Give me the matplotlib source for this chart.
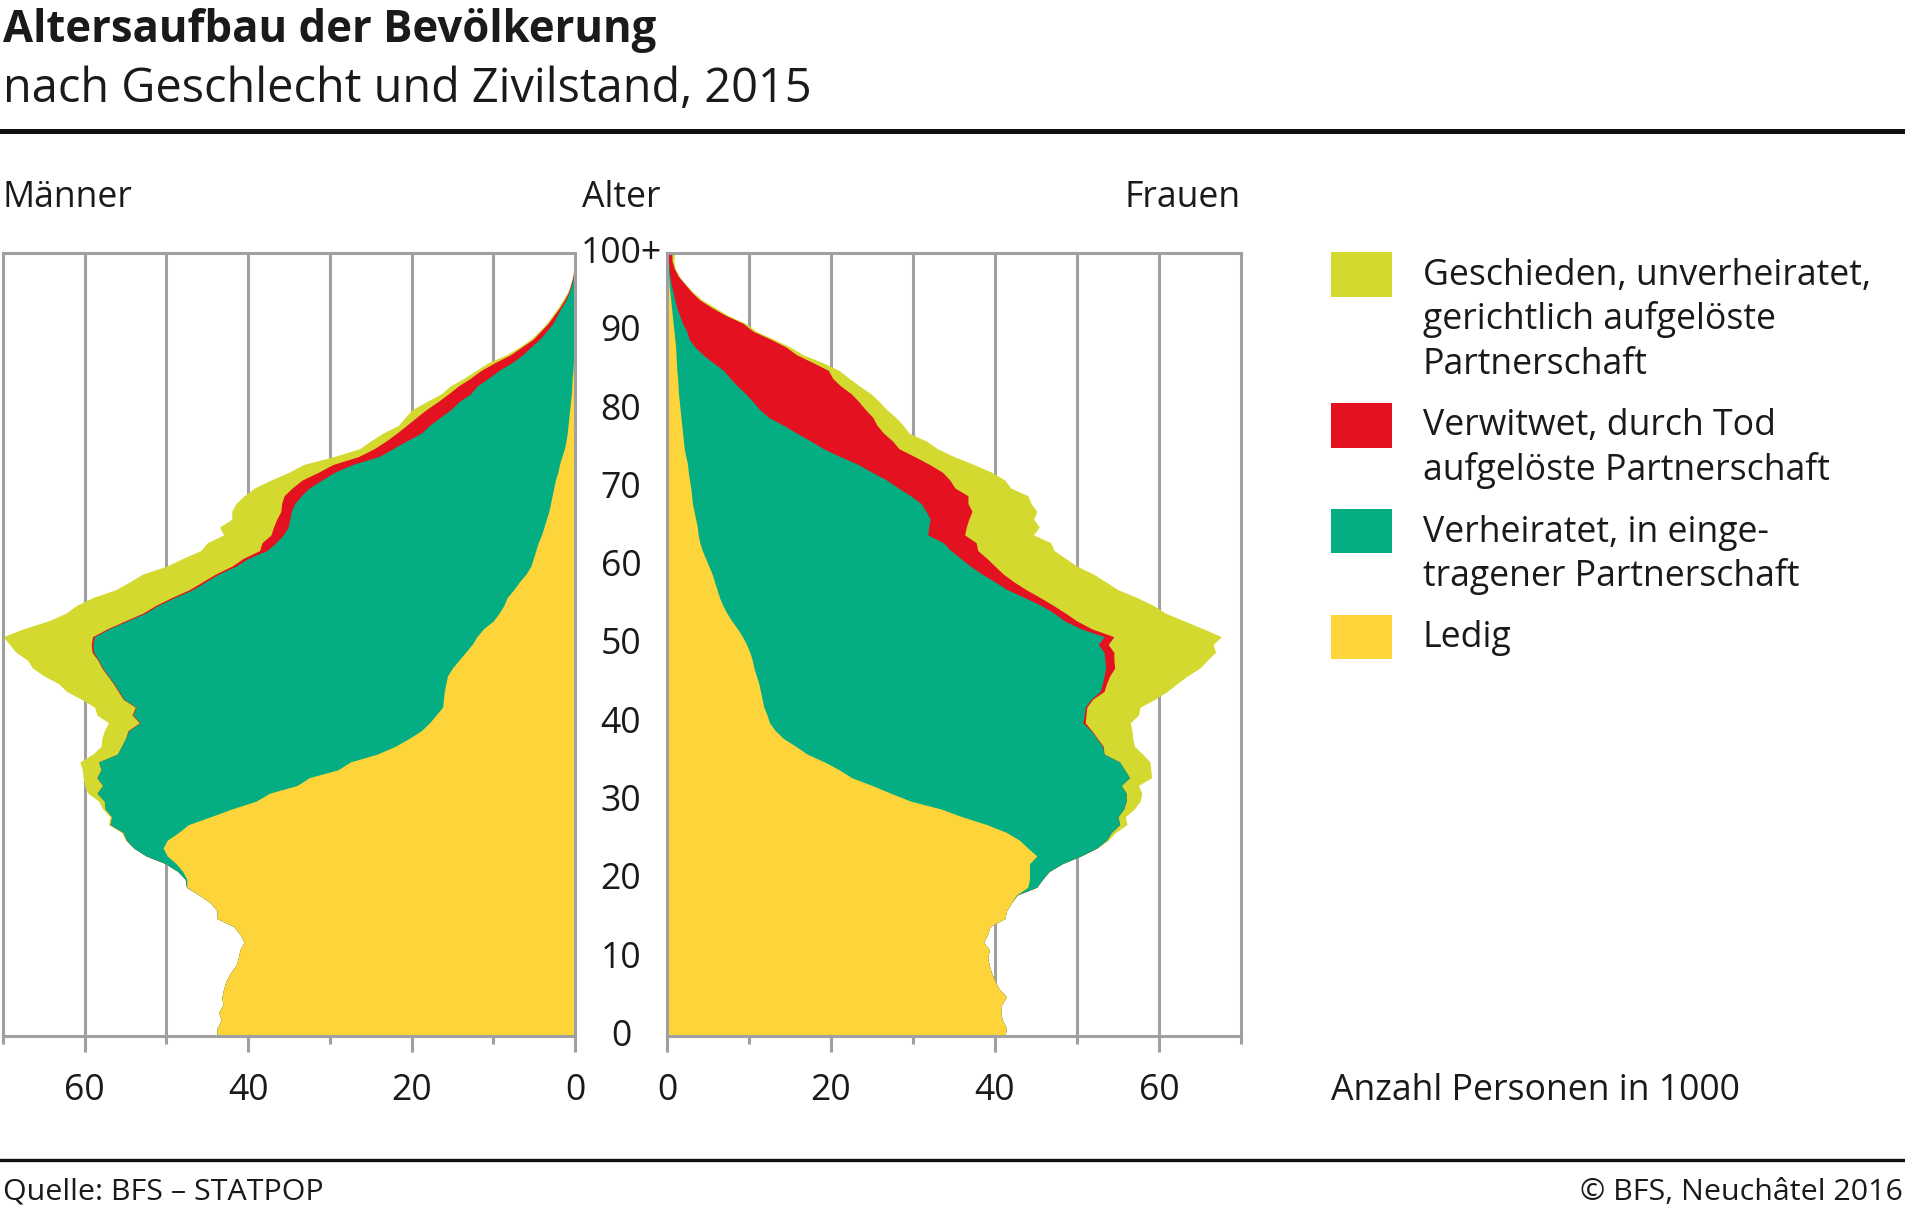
import numpy as np
import matplotlib
matplotlib.use("Agg")
import matplotlib.pyplot as plt
from matplotlib.patches import Rectangle
from matplotlib.transforms import blended_transform_factory, ScaledTranslation

plt.rcParams['font.family'] = ['Open Sans', 'DejaVu Sans']

# Alter 100+ ... 0 (von oben nach unten), Anzahl Personen in 1000
ages = np.arange(100, -1, -1)

# Maenner
m_ledig = [0, 0, 0, 0, 0, 0, 0.05, 0.05, 0.05, 0.05,
           0.1, 0.1, 0.1, 0.15, 0.2, 0.25, 0.35, 0.4, 0.45, 0.55,
           0.65, 0.75, 0.85, 0.95, 1.1, 1.3, 1.6, 1.9, 2.1, 2.4,
           2.6, 2.8, 3.0, 3.2, 3.5, 3.8, 4.1, 4.5, 4.8, 5.1,
           5.4, 6.0, 6.8, 7.5, 8.3, 8.7, 9.3, 10.0, 11.2, 12.0,
           12.6, 13.4, 14.2, 15.0, 15.6, 15.8, 16.0, 16.1, 16.2, 17.0,
           17.8, 18.8, 20.3, 22.0, 24.2, 27.5, 29.0, 32.5, 34.0, 37.4,
           39.0, 42.0, 44.6, 47.3, 48.5, 49.9, 50.4, 49.9, 48.8, 48.0,
           47.5, 47.5, 46.0, 44.6, 43.8, 43.8, 41.8, 41.0, 40.5, 41.0,
           41.2, 41.5, 42.2, 42.7, 43.0, 43.2, 43.1, 43.6, 43.3, 43.8,
           43.8]
m_verh = [0, 0.05, 0.1, 0.2, 0.4, 0.7, 1.05, 1.65, 2.15, 2.65,
          3.4, 4.2, 5.3, 6.25, 7.5, 9.05, 10.25, 11.6, 12.35, 13.65,
          14.55, 15.75, 16.95, 17.85, 19.5, 21.0, 22.4, 25.3, 27.3, 28.6,
          29.9, 30.7, 31.3, 31.5, 31.4, 31.3, 31.6, 32.1, 32.9, 34.9,
          36.1, 37.6, 38.4, 39.3, 40.7, 42.3, 43.3, 44.8, 45.8, 46.8,
          46.4, 45.5, 44.1, 42.8, 41.5, 40.6, 39.8, 39.1, 37.5, 37.1,
          35.4, 35.8, 34.7, 33.5, 31.8, 30.8, 29.0, 26.0, 23.8, 21.1,
          18.6, 15.5, 12.1, 9.6, 6.8, 5.0, 3.6, 2.6, 1.3, 0.6,
          0.2, 0.05, 0, 0, 0, 0, 0, 0, 0, 0,
          0, 0, 0, 0, 0, 0, 0, 0, 0, 0,
          0]
m_verw = [0, 0, 0, 0.05, 0.1, 0.1, 0.2, 0.2, 0.4, 0.6,
          0.7, 0.8, 1.1, 1.5, 2.1, 2.2, 2.2, 2.3, 2.7, 2.6,
          3.0, 2.9, 2.8, 3.0, 2.5, 2.3, 2.5, 2.4, 2.0, 2.4,
          2.1, 2.1, 1.6, 1.3, 1.6, 1.8, 1.5, 1.7, 0.9, 0.6,
          0.5, 0.4, 0.4, 0.4, 0.35, 0.3, 0.3, 0.3, 0.25, 0.25,
          0.2, 0.2, 0.1, 0.1, 0.1, 0.1, 0.1, 0.1, 0.1, 0.1,
          0.1, 0.1, 0, 0, 0, 0, 0, 0, 0, 0,
          0, 0, 0, 0, 0, 0, 0, 0, 0, 0,
          0, 0, 0, 0, 0, 0, 0, 0, 0, 0,
          0, 0, 0, 0, 0, 0, 0, 0, 0, 0,
          0]
m_gesch = [0, 0.05, 0.05, 0.05, 0.05, 0.1, 0.2, 0.2, 0.2, 0.2,
           0.2, 0.3, 0.3, 0.5, 0.8, 0.6, 0.8, 1.0, 0.9, 1.4,
           1.7, 1.4, 1.0, 1.7, 1.9, 1.8, 3.0, 3.6, 3.6, 3.8,
           4.6, 4.9, 5.6, 6.0, 5.5, 6.6, 5.8, 6.7, 7.2, 7.4,
           8.0, 8.9, 8.9, 9.0, 9.65, 9.7, 9.4, 9.4, 10.25, 10.95,
           10.0, 9.3, 8.6, 8.5, 7.8, 6.7, 6.3, 5.1, 5.0, 4.3,
           3.8, 2.9, 2.9, 2.5, 3.0, 2.3, 2.3, 1.7, 2.2, 1.1,
           0.7, 0.3, 0.2, 0.2, 0.2, 0.1, 0, 0, 0, 0,
           0, 0, 0, 0, 0, 0, 0, 0, 0, 0,
           0, 0, 0, 0, 0, 0, 0, 0, 0, 0,
           0]

# Frauen
f_ledig = [0, 0.05, 0.1, 0.2, 0.25, 0.35, 0.45, 0.55, 0.65, 0.75,
           0.85, 0.95, 1.05, 1.1, 1.15, 1.2, 1.3, 1.35, 1.4, 1.5,
           1.6, 1.7, 1.8, 1.9, 2.0, 2.1, 2.3, 2.5, 2.6, 2.75,
           2.9, 3.0, 3.1, 3.3, 3.5, 3.7, 3.8, 4.0, 4.3, 4.7,
           5.1, 5.5, 5.8, 6.1, 6.4, 6.8, 7.3, 7.9, 8.6, 9.2,
           9.7, 10.1, 10.4, 10.6, 10.9, 11.2, 11.4, 11.6, 11.8, 12.2,
           12.5, 13.2, 14.2, 15.7, 17.1, 19.2, 21.0, 22.5, 25.0, 27.3,
           29.7, 33.4, 36.0, 39.0, 41.4, 43.0, 44.0, 45.1, 44.2, 44.2,
           44.2, 44.0, 42.6, 42.0, 41.4, 41.2, 39.4, 39.1, 38.6, 39.3,
           39.1, 39.3, 39.6, 40.0, 40.5, 41.4, 40.8, 40.7, 40.9, 41.4,
           41.2]
f_verh = [0.1, 0.15, 0.15, 0.15, 0.25, 0.4, 0.5, 0.65, 0.9, 1.15,
          1.55, 1.75, 2.35, 3.3, 4.45, 5.7, 6.4, 7.25, 8.2, 9.0,
          9.7, 10.7, 12.4, 13.9, 15.5, 17.0, 18.8, 20.8, 22.4, 24.05,
          25.3, 26.7, 27.9, 28.3, 28.6, 28.2, 28.0, 29.7, 30.3, 31.1,
          31.9, 32.9, 34.2, 35.4, 37.2, 38.8, 39.9, 40.6, 41.9, 44.1,
          42.9, 43.2, 43.0, 42.9, 42.4, 41.9, 41.4, 40.1, 39.2, 38.7,
          38.2, 38.5, 38.2, 37.4, 36.2, 36.0, 34.8, 33.9, 30.4, 28.7,
          26.3, 22.3, 19.0, 16.2, 12.8, 10.6, 8.4, 5.4, 4.0, 2.4,
          1.6, 1.1, 0.1, 0, 0, 0, 0, 0, 0, 0,
          0, 0, 0, 0, 0, 0, 0, 0, 0, 0,
          0]
f_verw = [0.5, 0.4, 0.65, 1.05, 1.7, 2.25, 3.05, 4.3, 5.65, 7.4,
          8.1, 9.9, 11.1, 11.4, 12.2, 12.8, 12.5, 12.6, 12.9, 12.9,
          12.9, 12.7, 11.4, 10.6, 10.0, 9.2, 9.1, 8.7, 8.6, 7.7,
          6.9, 7.0, 5.7, 5.6, 4.7, 4.6, 4.5, 4.0, 3.3, 3.2,
          3.0, 2.6, 2.3, 2.3, 1.9, 1.5, 1.4, 1.5, 1.3, 1.2,
          1.2, 1.2, 1.1, 1.1, 0.7, 0.5, 0.5, 0.2, 0.2, 0.2,
          0.3, 0.1, 0.1, 0.1, 0, 0, 0, 0, 0, 0,
          0, 0, 0, 0, 0, 0, 0, 0, 0, 0,
          0, 0, 0, 0, 0, 0, 0, 0, 0, 0,
          0, 0, 0, 0, 0, 0, 0, 0, 0, 0,
          0]
f_gesch = [0.3, 0.25, 0.1, 0.1, 0.1, 0.2, 0.3, 0.4, 0.3, 0.3,
           0.4, 0.4, 0.5, 0.8, 1.2, 1.3, 2.0, 2.3, 2.4, 2.5,
           2.6, 2.8, 3.2, 3.1, 4.1, 4.7, 4.8, 5.4, 6.0, 6.7,
           6.8, 7.3, 7.7, 7.9, 7.9, 8.9, 8.4, 9.1, 9.3, 9.6,
           10.0, 11.0, 11.2, 11.2, 11.8, 12.2, 12.2, 13.1, 13.6, 13.1,
           12.8, 12.4, 11.4, 10.4, 9.5, 8.6, 7.7, 7.6, 6.5, 6.4,
           5.5, 4.9, 4.3, 3.8, 4.7, 3.7, 3.2, 2.7, 2.1, 1.9,
           1.7, 1.3, 0.9, 0.9, 0.5, 0.2, 0.1, 0, 0, 0,
           0, 0, 0, 0, 0, 0, 0, 0, 0, 0,
           0, 0, 0, 0, 0, 0, 0, 0, 0, 0,
           0]

age_ticks = [0, 10, 20, 30, 40, 50, 60, 70, 80, 90, 100]
age_labels = ['0', '10', '20', '30', '40', '50', '60', '70', '80', '90', '100+']
x_labels = [0, 20, 40, 60]

legend_lines = [["Geschieden, unverheiratet,", "gerichtlich aufgelöste", "Partnerschaft"],
                ["Verwitwet, durch Tod", "aufgelöste Partnerschaft"],
                ["Verheiratet, in einge-", "tragener Partnerschaft"],
                ["Ledig"]]

C_GESCH = '#d3d92f'
C_VERW = '#e41120'
C_VERH = '#04ae82'
C_LEDIG = '#fdd53b'
GRID = '#a0a0a0'
TXT = '#1a1a1a'

W, H = 1906, 1209
def fx(x):
    return x / W
def fy(y):
    return 1 - y / H

fig = plt.figure(figsize=(W / 100, H / 100), dpi=100)
fig.patch.set_facecolor('white')

AX_TOP, AX_BOT = 253, 1036
ax_m = fig.add_axes([fx(3), fy(AX_BOT), fx(575) - fx(3), fy(AX_TOP) - fy(AX_BOT)])
ax_f = fig.add_axes([fx(667), fy(AX_BOT), fx(1241) - fx(667), fy(AX_TOP) - fy(AX_BOT)])


def pyramid(ax, ledig, verh, verw, gesch):
    l = np.asarray(ledig)
    g = l + np.asarray(verh)
    r = g + np.asarray(verw)
    o = r + np.asarray(gesch)
    # overlapping fills from outside in, so no seams show
    for top, col in [(o, C_GESCH), (r, C_VERW), (g, C_VERH), (l, C_LEDIG)]:
        ax.fill_betweenx(ages, 0, top, color=col, lw=0, zorder=1)
    for v in range(10, 70, 10):
        ax.axvline(v, color=GRID, lw=2.2, zorder=0)
    ax.set_ylim(0, 100)
    for s in ax.spines.values():
        s.set_color(GRID)
        s.set_linewidth(2.2)
        s.set_zorder(3)
    ax.set_yticks([])
    ax.set_xticks([0, 20, 40, 60])
    ax.set_xticks([10, 30, 50, 70], minor=True)
    ax.tick_params(axis='x', which='major', length=11.5, width=2.2, color=GRID,
                   labelbottom=False)
    ax.tick_params(axis='x', which='minor', length=5.8, width=2.2, color=GRID)
    ax.set_facecolor('none')


pyramid(ax_m, m_ledig, m_verh, m_verw, m_gesch)
pyramid(ax_f, f_ledig, f_verh, f_verw, f_gesch)
ax_m.set_xlim(70, 0)
ax_f.set_xlim(0, 70)

texts_body = []

# x tick labels
for ax in (ax_m, ax_f):
    tr = blended_transform_factory(ax.transData, fig.transFigure)
    for v in x_labels:
        t = ax.text(v, fy(1100), str(v), transform=tr, ha='center', va='baseline', color=TXT)
        texts_body.append(t)

# age labels, centred between the two halves
down = ScaledTranslation(0, -10 / 100, fig.dpi_scale_trans)
tr_age = blended_transform_factory(fig.transFigure, ax_m.transData) + down
for a, lab in zip(age_ticks, age_labels):
    t = fig.text(fx(621), a, lab, transform=tr_age, ha='center', va='baseline', color=TXT)
    texts_body.append(t)

texts_body.append(fig.text(fx(3), fy(206.7), "Männer", ha='left', va='baseline', color=TXT))
texts_body.append(fig.text(fx(621), fy(206.7), "Alter", ha='center', va='baseline', color=TXT))
texts_body.append(fig.text(fx(1241), fy(206.7), "Frauen", ha='right', va='baseline', color=TXT))
anzahl = fig.text(fx(1331), fy(1099.5), "Anzahl Personen in 1000", ha='left', va='baseline', color=TXT)
texts_body.append(anzahl)

# legend
squares = [(251.7, 296.7), (403.3, 447.7), (509.3, 553.3), (615, 659.3)]
baselines = [[285, 329.3, 374.3], [435, 480], [541.7, 586], [646.7]]
for (y0, y1), col, lines, bls in zip(squares, [C_GESCH, C_VERW, C_VERH, C_LEDIG],
                                      legend_lines, baselines):
    fig.add_artist(Rectangle((fx(1331), fy(y1)), fx(1392) - fx(1331), fy(y0) - fy(y1),
                             transform=fig.transFigure, color=col, lw=0))
    for line, b in zip(lines, bls):
        texts_body.append(fig.text(fx(1423), fy(b), line, ha='left', va='baseline', color=TXT))

# title block and rules
title = fig.text(fx(3), fy(41.7), "Altersaufbau der Bevölkerung", ha='left', va='baseline',
                 fontweight='bold', color=TXT)
subtitle = fig.text(fx(3), fy(101.7), "nach Geschlecht und Zivilstand, 2015", ha='left',
                    va='baseline', color=TXT)
fig.add_artist(plt.Line2D([0, 1], [fy(130.5), fy(130.5)], transform=fig.transFigure,
                          color='#111111', lw=3.6))
fig.add_artist(plt.Line2D([0, 1], [fy(1159.5), fy(1159.5)], transform=fig.transFigure,
                          color='#111111', lw=2.4))
quelle = fig.text(fx(3), fy(1200), "Quelle: BFS – STATPOP", ha='left', va='baseline', color=TXT)
copy = fig.text(fx(1903), fy(1200), "© BFS, Neuchâtel 2016", ha='right', va='baseline', color=TXT)

# size fonts so the text widths match the original layout
rend = fig.canvas.get_renderer()
def fit(t, width_px):
    t.set_fontsize(20)
    w = t.get_window_extent(renderer=rend).width
    return 20 * width_px / w

fs_title = fit(title, 653)
fs_sub = fit(subtitle, 808)
fs_body = fit(anzahl, 410)
fs_foot = fit(quelle, 320)
title.set_fontsize(fs_title)
subtitle.set_fontsize(fs_sub)
for t in texts_body:
    t.set_fontsize(fs_body)
quelle.set_fontsize(fs_foot)
copy.set_fontsize(fs_foot)

fig.savefig("out.png", dpi=100, facecolor='white')
